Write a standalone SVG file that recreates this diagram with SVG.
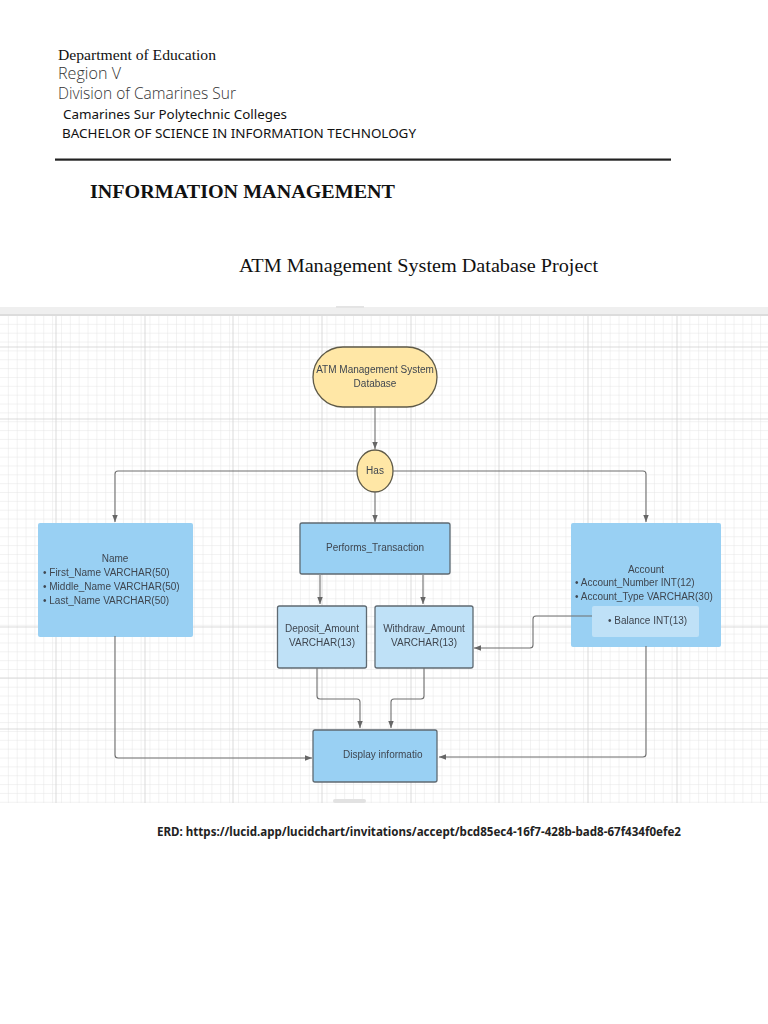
<svg xmlns="http://www.w3.org/2000/svg" width="768" height="1024" viewBox="0 0 768 1024">
<style>
.d{font-family:"Liberation Sans",Arial,sans-serif;font-size:10px;fill:#3f4650}
.m{text-anchor:middle}
.h{stroke:#6f6f6f;stroke-width:1.1;fill:none;marker-end:url(#a)}
.blue{fill:#99d0f3;stroke:#5f6a72;stroke-width:1.3}
.plain{fill:#99d0f3}
.pale{fill:#bfe1f7;stroke:#5f6a72;stroke-width:1.3}
.yel{fill:#ffe7a6;stroke:#5e5a48;stroke-width:1.3}
.ser{font-family:"Liberation Serif","Times New Roman",serif;fill:#111}
.san{font-family:"Open Sans","Liberation Sans",sans-serif;fill:#333}
.car{font-family:"Noto Sans","Liberation Sans",sans-serif;fill:#111}
.soft{filter:url(#b)}
</style>
<defs>
<filter id="b" x="-5%" y="-5%" width="110%" height="110%"><feGaussianBlur stdDeviation="0.35"/></filter>
<marker id="a" markerWidth="7" markerHeight="9" refX="9" refY="3.500" orient="auto" markerUnits="userSpaceOnUse" viewBox="0 0 9 7"><path d="M0 0L9 3.500L0 7Z" fill="#666"/></marker>
<pattern id="g" width="8.85" height="8.85" patternUnits="userSpaceOnUse" x="0" y="316"><path d="M8.85 0V8.85M0 8.85H8.85" fill="none" stroke="#dedede" stroke-width="0.8"/></pattern>
</defs>
<rect width="768" height="1024" fill="#fff"/>
<text class="ser" x="58" y="60" font-size="14.500" textLength="158" lengthAdjust="spacingAndGlyphs">Department of Education</text>
<text class="san" x="58" y="79" font-size="15.500" font-weight="300" textLength="63" lengthAdjust="spacingAndGlyphs">Region V</text>
<text class="san" x="58" y="99" font-size="15.500" font-weight="300" textLength="178" lengthAdjust="spacingAndGlyphs">Division of Camarines Sur</text>
<text class="car" x="63" y="119" font-size="13" textLength="224" lengthAdjust="spacingAndGlyphs">Camarines Sur Polytechnic Colleges</text>
<text class="car" x="62" y="138" font-size="13" textLength="354" lengthAdjust="spacingAndGlyphs">BACHELOR OF SCIENCE IN INFORMATION TECHNOLOGY</text>
<rect x="55" y="158.500" width="616" height="2.200" fill="#222"/>
<text class="ser" x="90" y="198" font-size="18.500" font-weight="bold" textLength="305" lengthAdjust="spacingAndGlyphs">INFORMATION MANAGEMENT</text>
<text class="ser" x="239" y="272" font-size="18.500" textLength="359" lengthAdjust="spacingAndGlyphs">ATM Management System Database Project</text>

<g id="canvas">
<rect x="0" y="307" width="768" height="9" fill="#efefef"/>
<rect x="0" y="314" width="768" height="2" fill="#dcdcdc"/>
<rect x="336" y="306" width="28" height="2" fill="#e4e4e4"/>
<rect x="0" y="316" width="768" height="487" fill="#fff"/>
<rect x="0" y="316" width="768" height="487" fill="url(#g)"/>
<path d="M233 316V803M322 316V803M411 316V803M499 316V803M588 316V803M677 316V803M145 316V803M56 316V803M0 347H768M0 419H768M0 627H768M0 678H768M0 729H768" fill="none" stroke="#d2d2d2" stroke-width="0.8"/>
<rect x="333" y="799" width="33" height="4" rx="2" fill="#e2e2e2"/>
</g>

<g class="soft">
<g id="atm"><rect class="yel" x="313" y="347" width="124" height="60" rx="30"/>
<text class="d m" x="375" y="373">ATM Management System</text><text class="d m" x="375" y="387">Database</text></g>
<g id="has"><ellipse class="yel" cx="375" cy="471" rx="18" ry="21"/><text class="d m" x="375" y="474">Has</text></g>
<g id="name"><rect class="plain" x="38" y="523" width="155" height="114" rx="2"/>
<text class="d m" x="115" y="562">Name</text>
<text class="d" x="43" y="576">• First_Name VARCHAR(50)</text>
<text class="d" x="43" y="590">• Middle_Name VARCHAR(50)</text>
<text class="d" x="43" y="604">• Last_Name VARCHAR(50)</text></g>
<g id="performs"><rect class="blue" x="300" y="523" width="150" height="51" rx="2"/><text class="d m" x="375" y="551">Performs_Transaction</text></g>
<g id="account"><rect class="plain" x="571" y="523" width="150" height="124" rx="2"/>
<text class="d m" x="646" y="573">Account</text>
<text class="d" x="575" y="586">• Account_Number INT(12)</text>
<text class="d" x="575" y="600">• Account_Type VARCHAR(30)</text>
<rect x="592" y="606" width="107" height="31" rx="2" fill="#bfe1f7"/>
<text class="d" x="608" y="624">• Balance INT(13)</text></g>
<g id="deposit"><rect class="pale" x="277.500" y="606" width="89" height="62" rx="2"/>
<text class="d m" x="322" y="632">Deposit_Amount</text><text class="d m" x="322" y="646">VARCHAR(13)</text></g>
<g id="withdraw"><rect class="pale" x="375" y="606" width="98" height="62" rx="2"/>
<text class="d m" x="424" y="632">Withdraw_Amount</text><text class="d m" x="424" y="646">VARCHAR(13)</text></g>
<g id="display"><rect class="blue" x="313" y="730" width="124" height="52" rx="2"/><text class="d" x="343" y="758">Display informatio</text></g>

<g id="connectors">
<path class="h" d="M375 408V449"/>
<path class="h" d="M357 471H118Q115 471 115 474V522"/>
<path class="h" d="M393 471H643Q646 471 646 474V522"/>
<path class="h" d="M375 492V522"/>
<path class="h" d="M320 575V604"/>
<path class="h" d="M423 575V604"/>
<path class="h" d="M317 668V696Q317 699 320 699H357Q360 699 360 702V728"/>
<path class="h" d="M424 668V696Q424 699 421 699H394Q391 699 391 702V728"/>
<path class="h" d="M115 636V755Q115 758 118 758H312"/>
<path class="h" d="M646 646V754Q646 757 643 757H439"/>
<path class="h" d="M592 616H536Q533 616 533 619V645Q533 648 530 648H474"/>
</g>
</g>
<text x="157" y="836" font-family="Noto Sans,Liberation Sans,sans-serif" font-size="11.500" font-weight="bold" fill="#222" textLength="524" lengthAdjust="spacingAndGlyphs">ERD: https://lucid.app/lucidchart/invitations/accept/bcd85ec4-16f7-428b-bad8-67f434f0efe2</text>
</svg>
